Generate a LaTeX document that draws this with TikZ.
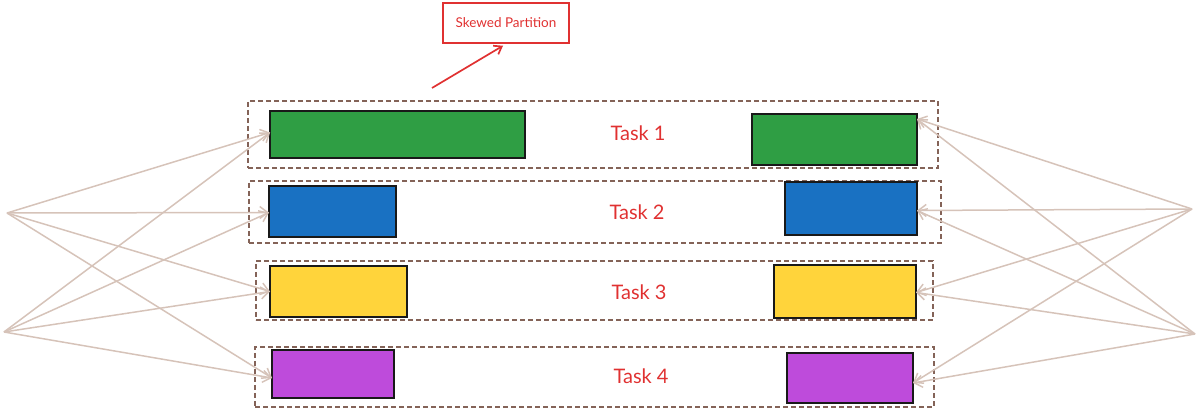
\documentclass[tikz,border=0pt]{standalone}
\usepackage{fontspec}
\setmainfont{Lato}
\usetikzlibrary{arrows.meta,fit,calc}
\definecolor{exgreen}{HTML}{2F9E44}
\definecolor{exblue}{HTML}{1971C2}
\definecolor{exyellow}{HTML}{FFD43B}
\definecolor{expurple}{HTML}{BE4BDB}
\definecolor{exred}{HTML}{E03131}
\definecolor{boxbrown}{HTML}{846358}
\definecolor{arrowc}{HTML}{D6C3B9}
\begin{document}
\begin{tikzpicture}[x=1pt,y=-1pt,
  blk/.style={draw=black!90, line width=1.7pt, inner sep=0pt, outer sep=0pt},
  taskbox/.style={draw=boxbrown, dash pattern=on 5pt off 3pt, line width=1.3pt, inner sep=0pt, outer sep=0pt},
  tasklbl/.style={text=exred, font=\fontsize{20}{24}\selectfont},
  flow/.style={draw=arrowc, line width=1.5pt, -{Straight Barb[length=8pt,width=12pt]}},
  callout/.style={draw=exred, line width=1.5pt, text=exred, minimum width=126pt, minimum height=40pt, inner sep=0pt, font=\fontsize{13.5}{16}\selectfont},
  redflow/.style={draw=exred, line width=1.7pt, -{Straight Barb[length=7pt,width=10pt]}},
]
\useasboundingbox (0,0) rectangle (1200,411);

% callout
\node[callout] (sk) at (506,23) {Skewed Partition};
\coordinate (skt) at (432,88);
\draw[redflow] (skt) -- ($(sk.south)+(-3,2)$);

% task boxes
\node[taskbox, fit={(248,101)(938,168)}] (t1) {};
\node[taskbox, fit={(249,181)(941,243)}] (t2) {};
\node[taskbox, fit={(256,261)(933,320)}] (t3) {};
\node[taskbox, fit={(255,347)(934,407)}] (t4) {};

\node[tasklbl] (l1) at (638,133) {Task 1};
\node[tasklbl] (l2) at (637,212) {Task 2};
\node[tasklbl] (l3) at (639,292) {Task 3};
\node[tasklbl] (l4) at (641,376) {Task 4};

% partitions
\node[blk, fill=exgreen, fit={(270,111)(525,158)}] (g1) {};
\node[blk, fill=exgreen, fit={(752,114)(917,165)}] (g2) {};
\node[blk, fill=exblue, fit={(269,186)(396,237)}] (b1) {};
\node[blk, fill=exblue, fit={(785,182)(917,235)}] (b2) {};
\node[blk, fill=exyellow, fit={(270,266)(407,317)}] (y1) {};
\node[blk, fill=exyellow, fit={(774,265)(916,318)}] (y2) {};
\node[blk, fill=expurple, fit={(272,350)(394,398)}] (p1) {};
\node[blk, fill=expurple, fit={(787,353)(913,403)}] (p2) {};

% sources
\coordinate (L1) at (7,213);
\coordinate (L2) at (4,332);
\coordinate (R1) at (1192,209);
\coordinate (R2) at (1195,334);

\foreach \s in {L1,L2}{
  \draw[flow] (\s) -- ($(g1.west)+(0,-2)$);
  \draw[flow] (\s) -- ($(b1.west)+(0,1)$);
  \draw[flow] (\s) -- (y1.west);
  \draw[flow] (\s) -- ($(p1.west)+(0,4)$);
}
\foreach \s in {R1,R2}{
  \draw[flow] (\s) -- ($(g2.north east)+(0,5)$);
  \draw[flow] (\s) -- ($(b2.east)+(0,2)$);
  \draw[flow] (\s) -- ($(y2.east)+(0,1)$);
  \draw[flow] (\s) -- ($(p2.east)+(0,5)$);
}
\end{tikzpicture}
\end{document}
